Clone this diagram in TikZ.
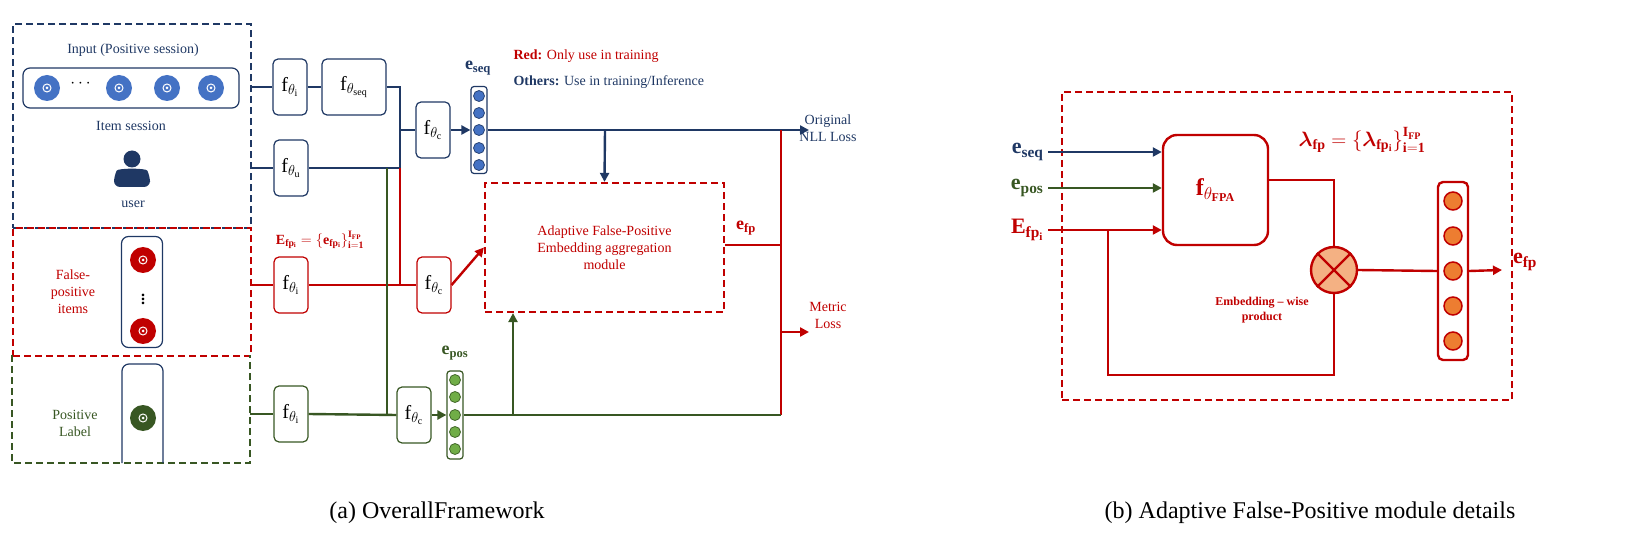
\documentclass[tikz,border=0pt]{standalone}
\usepackage{amsmath}
\usepackage{fontspec}
\setmainfont{Liberation Serif}
\usetikzlibrary{arrows.meta}
\definecolor{nv}{RGB}{31,56,100}
\definecolor{rd}{RGB}{192,0,0}
\definecolor{gn}{RGB}{56,87,35}
\definecolor{ib}{RGB}{68,114,196}
\definecolor{lg}{RGB}{112,173,71}
\definecolor{og}{RGB}{237,125,49}
\definecolor{lo}{RGB}{244,177,131}
\begin{document}
\begin{tikzpicture}[x=1pt,y=-1pt,
  dbox/.style={draw,dashed,line width=2.2pt,dash pattern=on 7pt off 4pt},
  fb/.style={draw,rounded corners=5pt,line width=1.2pt,minimum width=34pt,minimum height=56pt,inner sep=0pt,font=\fontsize{20}{20}\selectfont},
  wire/.style={line width=2.4pt},
  arr/.style={wire,-{Triangle[length=9pt,width=9pt]}},
  lbl/.style={font=\fontsize{14}{17}\selectfont,align=center},
  item/.style={circle,fill=#1,minimum size=26pt,inner sep=0pt,path picture={\draw[white,line width=1pt] (path picture bounding box.center) circle (4pt);\fill[white] (path picture bounding box.center) circle (1.5pt);}},
  dot/.style={circle,draw=#1!60!black,fill=#1,line width=0.8pt,minimum size=11pt,inner sep=0pt}]
\useasboundingbox (0,0) rectangle (1634,545);
% ---------- panel a boxes
\node[dbox,draw=nv,minimum width=238pt,minimum height=204pt,anchor=north west] (bb) at (12,23) {};
\node[dbox,draw=rd,minimum width=238pt,minimum height=128pt,anchor=north west] (rb) at (12,227) {};
\draw[dbox,draw=gn] (12,355) -- (12,463) -- (250,463) -- (250,355);
\node[lbl,text=nv] (inp) at (133,50) {Input (Positive session)};
\node[draw=nv,line width=1.2pt,rounded corners=7pt,minimum width=216pt,minimum height=40pt] (sess) at (131,88) {};
\node[item=ib] (c1) at (47,88) {};
\node[item=ib] (c2) at (119,88) {};
\node[item=ib] (c3) at (167,88) {};
\node[item=ib] (c4) at (211,88) {};
\node[font=\bfseries\fontsize{16}{16}\selectfont] (dd) at (82,84) {$\cdots$};
\node[lbl,text=nv] (isl) at (131,126) {Item session};
\fill[nv] (132,159) circle (8.5pt);
\fill[nv,rounded corners=6pt] (114,187) -- (114,176) .. controls (118,168) and (146,168) .. (150,176) -- (150,187) -- cycle;
\node[lbl,text=nv] (usr) at (133,204) {user};
\node[lbl,text=rd] (fpl) at (73,292) {False-\\positive\\items};
\node[draw=nv,line width=1.2pt,rounded corners=7pt,minimum width=41pt,minimum height=111pt] (fpbox) at (142,292) {};
\node[item=rd] (r1) at (143,260) {};
\node[item=rd] (r2) at (143,331) {};
\node[font=\bfseries\fontsize{16}{16}\selectfont] (vd) at (143,296) {$\vdots$};
\node[lbl,text=gn] (pll) at (75,423) {Positive\\Label};
\draw[nv,line width=1.2pt,rounded corners=7pt] (122,463) -- (122,364) -- (163,364) -- (163,463);
\node[item=gn] (g1) at (143,418) {};
% ---------- function blocks
\node[fb,draw=nv] (fi1) at (290,87) {$\mathrm{f}_{\theta_{\mathrm{i}}}$};
\node[fb,draw=nv,minimum width=64pt] (fseq) at (354,87) {$\mathrm{f}_{\theta_{\mathrm{seq}}}$};
\node[fb,draw=nv] (fu) at (291,168) {$\mathrm{f}_{\theta_{\mathrm{u}}}$};
\node[fb,draw=nv] (fc1) at (433,130) {$\mathrm{f}_{\theta_{\mathrm{c}}}$};
\node[fb,draw=rd] (fi2) at (291,285) {$\mathrm{f}_{\theta_{\mathrm{i}}}$};
\node[fb,draw=rd] (fc2) at (434,285) {$\mathrm{f}_{\theta_{\mathrm{c}}}$};
\node[fb,draw=gn] (fi3) at (291,414) {$\mathrm{f}_{\theta_{\mathrm{i}}}$};
\node[fb,draw=gn] (fc3) at (414,415) {$\mathrm{f}_{\theta_{\mathrm{c}}}$};
% embedding columns
\node[draw=nv,line width=1.2pt,rounded corners=3pt,minimum width=16pt,minimum height=87pt] (eseq) at (479,130) {};
\foreach \y in {96,113,130,148,165} \node[dot=ib] at (479,\y) {};
\node[font=\bfseries\fontsize{18}{18}\selectfont,text=nv] (eseql) at (478,68) {e$_{\textbf{seq}}$};
\node[draw=gn,line width=1.2pt,rounded corners=3pt,minimum width=16pt,minimum height=88pt] (epos) at (455,415) {};
\foreach \y in {380,397,415,432,449} \node[dot=lg] at (455,\y) {};
\node[font=\bfseries\fontsize{18}{18}\selectfont,text=gn] (eposl) at (455,353) {e$_{\textbf{pos}}$};
% module
\node[dbox,draw=rd,minimum width=239pt,minimum height=129pt,lbl,text=rd] (mod) at (604.5,247.5) {Adaptive False-Positive\\Embedding aggregation\\module};
\node[font=\bfseries\fontsize{18}{18}\selectfont,text=rd] (efpl) at (746,228) {e$_{\textbf{fp}}$};
\node[font=\fontsize{14}{14}\selectfont,text=rd] (Efp) at (320,240) {$\mathbf{E}_{\mathbf{fp_i}}=\{\mathbf{e}_{\mathbf{fp_i}}\}_{\mathbf{i=1}}^{\mathbf{I_{FP}}}$};
\node[lbl,anchor=west,text=rd] (leg1) at (510,56) {\textbf{Red:} Only use in training};
\node[lbl,anchor=west,text=nv] (leg2) at (510,82) {\textbf{Others:} Use in training/Inference};
\node[lbl,text=nv] (nll) at (828,128) {Original\\NLL Loss};
\node[lbl,text=rd] (mloss) at (828,315) {Metric\\Loss};
\coordinate (bx) at (400,130);
\coordinate (gu) at (513,415);
% blue wiring
\draw[wire,nv] (250,87) -- (fi1.west);
\draw[wire,nv] (fi1.east) -- (fseq.west);
\draw[wire,nv] (fseq.east) -- (400,87) -- (400,168);
\draw[wire,nv] (250,168) -- (fu.west);
\draw[wire,nv] (fu.east) -- (400,168);
\draw[wire,nv] (bx) -- (fc1.west);
\draw[arr,nv] (fc1.east) -- (eseq.west);
\draw[arr,nv] (eseq.east) -- (809,130);
\draw[arr,nv] (605,130) -- (mod.north);
% red wiring
\draw[wire,rd] (400,168) -- (400,285);
\draw[wire,rd] (250,285) -- (fi2.west);
\draw[wire,rd] (fi2.east) -- (fc2.west);
\draw[arr,rd] (fc2.east) -- (mod.west);
\draw[wire,rd] (mod.east|-0,245) -- (781,245);
\draw[wire,rd] (781,130) -- (781,415);
\draw[arr,rd] (781,332) -- (809,332);
% green wiring
\draw[wire,gn] (387,168) -- (387,414);
\draw[wire,gn] (250,414) -- (fi3.west);
\draw[wire,gn] (fi3.east) -- (fc3.west);
\draw[arr,gn] (fc3.east) -- (epos.west);
\draw[wire,gn] (epos.east) -- (781,415);
\draw[arr,gn] (gu) -- (mod.south -| gu);
% ---------- panel b
\node[dbox,draw=rd,minimum width=450pt,minimum height=308pt] (big) at (1287,246) {};
\node[draw=rd,line width=2.4pt,rounded corners=14pt,minimum width=105pt,minimum height=110pt,font=\bfseries\fontsize{24}{24}\selectfont,text=rd] (fpa) at (1215.5,190) {f$_{\theta_{\textbf{FPA}}}$};
\node[font=\bfseries\fontsize{22}{22}\selectfont,text=nv,anchor=east] (bs) at (1047,152) {e$_{\textbf{seq}}$};
\node[font=\bfseries\fontsize{22}{22}\selectfont,text=gn,anchor=east] (bp) at (1047,188) {e$_{\textbf{pos}}$};
\node[font=\bfseries\fontsize{22}{22}\selectfont,text=rd,anchor=east] (bE) at (1047,230) {E$_{\textbf{fp}_\textbf{i}}$};
\draw[arr,nv] (1048,152) -- (fpa.west|-0,152);
\draw[arr,gn] (1048,188) -- (fpa.west|-0,188);
\draw[arr,rd] (1048,230) -- (fpa.west|-0,230);
\node[circle,draw=rd,fill=lo,line width=2.4pt,minimum size=46pt,inner sep=0pt] (ot) at (1334,270) {};
\draw[rd,line width=2.4pt] (ot.north west) -- (ot.south east) (ot.north east) -- (ot.south west);
\draw[wire,rd] (fpa.east|-0,180) -- (1334,180) -- (ot.north);
\draw[wire,rd] (1108,230) -- (1108,375) -- (1334,375) -- (ot.south);
\node[font=\bfseries\fontsize{20}{20}\selectfont,text=rd] (lam) at (1362,140) {$\boldsymbol{\lambda}_{\mathbf{fp}}=\{\boldsymbol{\lambda}_{\mathbf{fp_i}}\}_{\mathbf{i=1}}^{\mathbf{I_{FP}}}$};
\node[lbl,font=\bfseries\fontsize{12}{15}\selectfont,text=rd] (ewp) at (1262,310) {Embedding -- wise\\product};
\node[draw=rd,line width=2.4pt,rounded corners=5pt,minimum width=30pt,minimum height=178pt] (vec) at (1453,271) {};
\foreach \y in {201,236,271,306,341} \node[dot=og,draw=rd,line width=1.5pt,minimum size=18pt] at (1453,\y) {};
\draw[wire,rd] (ot.east) -- (vec.west);
\draw[arr,rd] (vec.east) -- (1502,270);
\node[font=\bfseries\fontsize{22}{22}\selectfont,text=rd] (efp2) at (1525,262) {e$_{\textbf{fp}}$};
% captions
\node[font=\fontsize{24}{24}\selectfont] (capa) at (437,513) {(a) OverallFramework};
\node[font=\fontsize{24}{24}\selectfont] (capb) at (1310,513) {(b) Adaptive False-Positive module details};
\end{tikzpicture}
\end{document}
